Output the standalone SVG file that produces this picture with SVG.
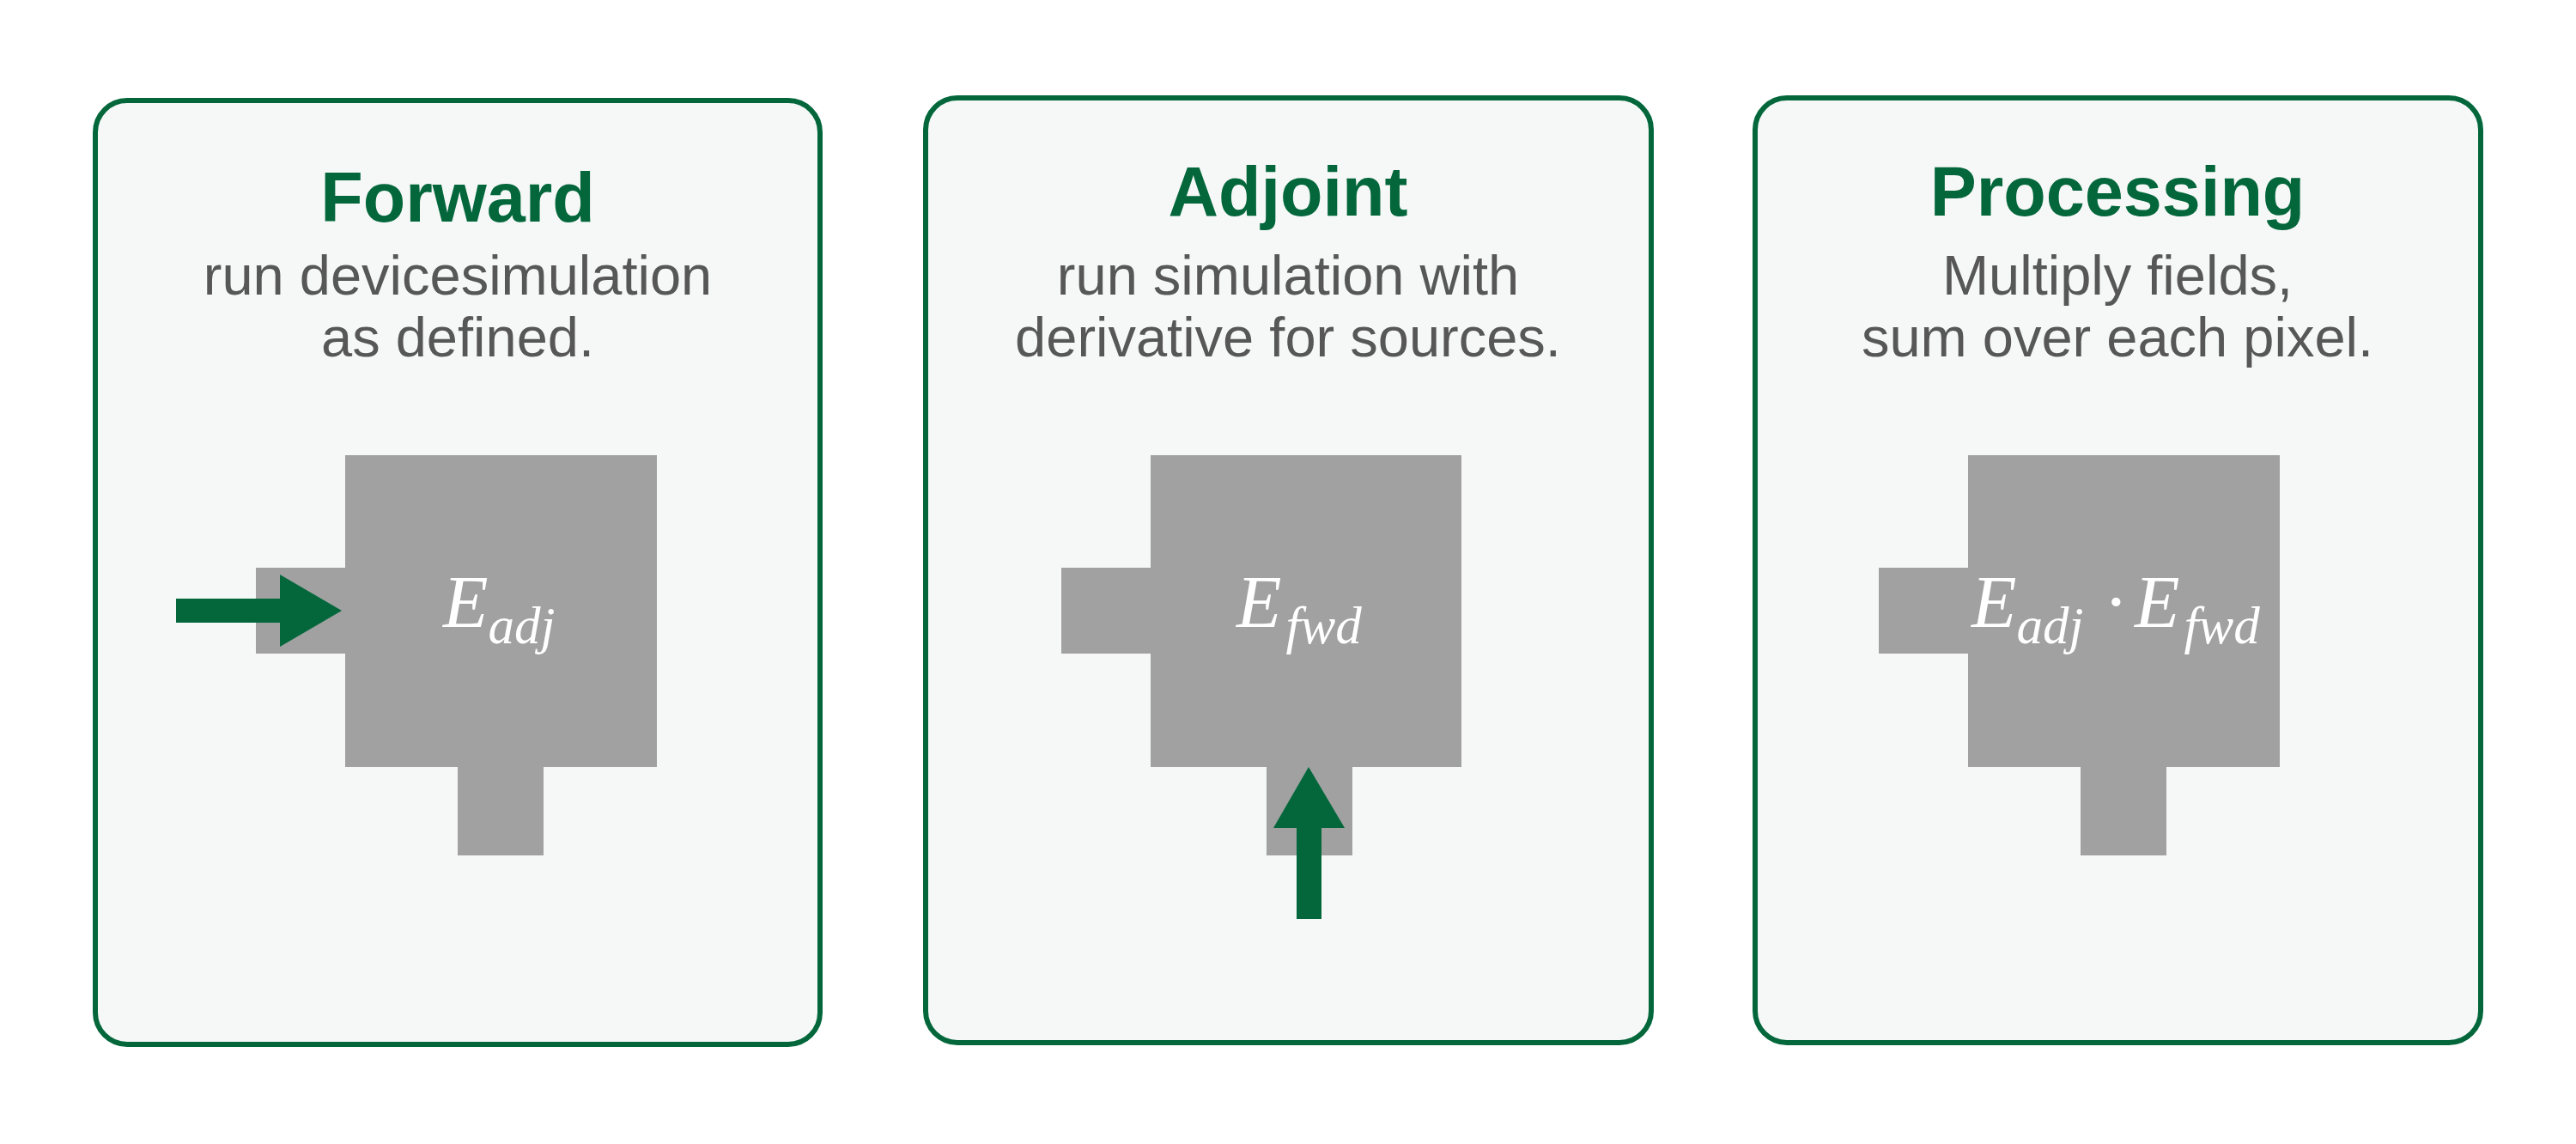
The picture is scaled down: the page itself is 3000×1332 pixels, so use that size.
<svg xmlns="http://www.w3.org/2000/svg" width="3000" height="1332" viewBox="0 0 3000 1332">
<style>
.panel{fill:#f6f8f7;stroke:#04673c;stroke-width:6}
.dev{fill:#a0a1a0}
.title{font-family:"Liberation Sans",Arial,sans-serif;font-weight:bold;font-size:81px;fill:#04673c;text-anchor:middle}
.sub{font-family:"Liberation Sans",Arial,sans-serif;font-size:65px;fill:#575757;text-anchor:middle}
.math{font-family:"Liberation Serif","Times New Roman",serif;font-style:italic;font-size:86px;fill:#ffffff}
.arrow{fill:#04673c}
</style>
<rect width="3000" height="1332" fill="#ffffff"/>
<g id="forward">
<rect class="panel" x="111" y="117" width="844" height="1099" rx="37"/>
<text class="title" x="533" y="258">Forward</text>
<text class="sub" x="533" y="343">run devicesimulation</text>
<text class="sub" x="533" y="415">as defined.</text>
<path class="dev" d="M402 530H765V893H633V996H533V893H402V761H298V661H402Z"/>
<text class="math" x="516" y="730">E<tspan font-size="61" dy="19">adj</tspan></text>
</g>
<g id="adjoint">
<rect class="panel" x="1078" y="114" width="845" height="1100" rx="37"/>
<text class="title" x="1500" y="251">Adjoint</text>
<text class="sub" x="1500" y="343">run simulation with</text>
<text class="sub" x="1500" y="415">derivative for sources.</text>
<path class="dev" d="M1340 530H1702V893H1575V996H1475V893H1340V761H1236V661H1340Z"/>
<text class="math" x="1440" y="730">E<tspan font-size="61" dy="19" dx="5">fwd</tspan></text>
</g>
<g id="processing">
<rect class="panel" x="2044" y="114" width="845" height="1100" rx="37"/>
<text class="title" x="2466" y="251">Processing</text>
<text class="sub" x="2466" y="343">Multiply fields,</text>
<text class="sub" x="2466" y="415">sum over each pixel.</text>
<path class="dev" d="M2292 530H2655V893H2523V996H2423V893H2292V761H2188V661H2292Z"/>
<text class="math" x="2296" y="730">E<tspan font-size="61" dy="19">adj</tspan><tspan x="2450" y="730" font-style="normal">·</tspan><tspan x="2486" y="730">E</tspan><tspan font-size="61" dy="19" dx="5">fwd</tspan></text>
</g>
<g id="connectors">
<polygon class="arrow" points="205,697 326,697 326,669 398,711 326,753 326,725 205,725"/>
<polygon class="arrow" points="1510,1070 1510,964 1483,964 1524,893 1566,964 1539,964 1539,1070"/>
</g>
</svg>
